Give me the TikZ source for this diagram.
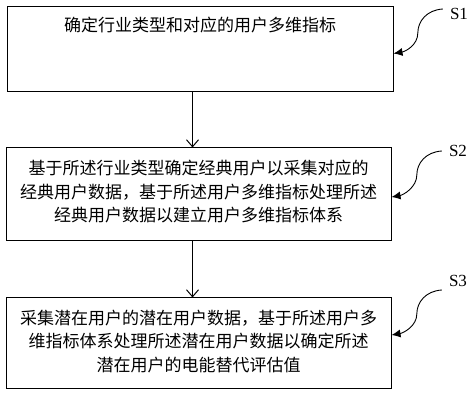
\documentclass[tikz,border=0pt]{standalone}
\usepackage{fontspec}
\setmainfont{Liberation Serif}
\newfontfamily\cjk{Noto Sans CJK SC}
\usetikzlibrary{arrows.meta}
\begin{document}
\begin{tikzpicture}[x=1pt,y=-1pt,
  stepbox/.style={draw=black,line width=1pt,inner sep=0pt},
  steptext/.style={font=\cjk\fontsize{17}{23.5}\selectfont,align=center,inner sep=0pt},
  steplabel/.style={font=\fontsize{17}{20}\selectfont,inner sep=2pt},
  flowarrow/.style={line width=1pt,-{Straight Barb[length=7pt,width=12pt,line width=1pt]}},
  curlyarrow/.style={line width=0.9pt,-{Latex[length=9pt,width=8pt]}}
]
\useasboundingbox (0,0) rectangle (474,395);
% boxes
\node[stepbox,minimum width=386pt,minimum height=85pt] (b1) at (200,49.5) {};
\node[stepbox,minimum width=385pt,minimum height=93pt] (b2) at (198.5,194.5) {};
\node[stepbox,minimum width=385pt,minimum height=90pt] (b3) at (198.5,343) {};
% texts
\node[steptext] (t1) at ([yshift=-19pt]b1.north) {确定行业类型和对应的用户多维指标};
\node[steptext] (t2) at ([yshift=2.5pt]b2.center) {基于所述行业类型确定经典用户以采集对应的\\经典用户数据，基于所述用户多维指标处理所述\\经典用户数据以建立用户多维指标体系};
\node[steptext] (t3) at ([yshift=1.5pt]b3.center) {采集潜在用户的潜在用户数据，基于所述用户多\\维指标体系处理所述潜在用户数据以确定所述\\潜在用户的电能替代评估值};
% labels
\node[steplabel] (s1) at (459,14) {S1};
\node[steplabel] (s2) at (458,151) {S2};
\node[steplabel] (s3) at (458,281) {S3};
% flow arrows
\coordinate (ax) at (192.5,0);
\draw[flowarrow] (b1.south -| ax) -- (b2.north -| ax);
\draw[flowarrow] (b2.south -| ax) -- (b3.north -| ax);
% curly arrows
\draw[curlyarrow] ([xshift=-5pt,yshift=5pt]s1.west) .. controls +(-16,1) and +(0,-12) .. ++(-25,24) .. controls +(0,12) and +(12,-2) .. ([yshift=-4pt]b1.east);
\draw[curlyarrow] ([xshift=-5pt,yshift=0pt]s2.west) .. controls +(-16,1) and +(0,-12) .. ++(-25,24) .. controls +(0,12) and +(12,-2) .. ([yshift=-2.5pt]b2.east);
\draw[curlyarrow] ([xshift=-5pt,yshift=-9pt]s3.west) .. controls +(-16,1) and +(0,-12) .. ++(-25,24) .. controls +(0,12) and +(12,-2) .. ([yshift=8pt]b3.east);
\end{tikzpicture}
\end{document}
